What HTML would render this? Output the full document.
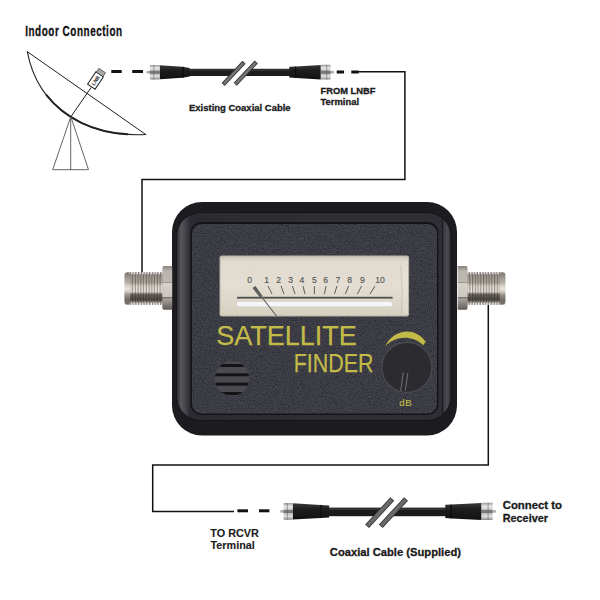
<!DOCTYPE html>
<html><head><meta charset="utf-8">
<style>
html,body{margin:0;padding:0;background:#fff;width:600px;height:600px;overflow:hidden;}
svg{display:block;}
text{font-family:"Liberation Sans",sans-serif;}
</style></head>
<body>
<svg width="600" height="600" viewBox="0 0 600 600">
<defs>
  <linearGradient id="metalV" x1="0" y1="0" x2="0" y2="1">
    <stop offset="0" stop-color="#7d776f"/>
    <stop offset="0.1" stop-color="#9f988f"/>
    <stop offset="0.33" stop-color="#b0a9a0"/>
    <stop offset="0.42" stop-color="#e2dbd3"/>
    <stop offset="0.6" stop-color="#e6dfd7"/>
    <stop offset="0.68" stop-color="#6e6862"/>
    <stop offset="0.85" stop-color="#4c4742"/>
    <stop offset="0.93" stop-color="#a6a098"/>
    <stop offset="1" stop-color="#7d776f"/>
  </linearGradient>
  <linearGradient id="faceV" x1="0" y1="0" x2="0" y2="1">
    <stop offset="0" stop-color="#7a756f"/>
    <stop offset="0.3" stop-color="#b8b2aa"/>
    <stop offset="0.5" stop-color="#ebe5de"/>
    <stop offset="0.75" stop-color="#9a948d"/>
    <stop offset="1" stop-color="#5a554f"/>
  </linearGradient>
  <linearGradient id="nutV" x1="0" y1="0" x2="0" y2="1">
    <stop offset="0" stop-color="#8a857f"/>
    <stop offset="0.12" stop-color="#b9b4ae"/>
    <stop offset="0.36" stop-color="#bdb8b2"/>
    <stop offset="0.37" stop-color="#8a857f"/>
    <stop offset="0.4" stop-color="#d6d1cb"/>
    <stop offset="0.7" stop-color="#cbc6c0"/>
    <stop offset="0.72" stop-color="#7a756f"/>
    <stop offset="0.76" stop-color="#a6a19b"/>
    <stop offset="1" stop-color="#5f5a55"/>
  </linearGradient>
  <pattern id="thread" x="0" y="0" width="2.75" height="50" patternUnits="userSpaceOnUse">
    <rect x="0" y="0" width="1.1" height="50" fill="#1e1a16" opacity="0.38"/>
  </pattern>
  <pattern id="teeth" x="0.5" y="0" width="2.75" height="50" patternUnits="userSpaceOnUse">
    <rect x="0" y="0" width="1.3" height="50" fill="#fff"/>
  </pattern>
  <linearGradient id="meterG" x1="0" y1="0" x2="0" y2="1">
    <stop offset="0" stop-color="#cbc5b7"/>
    <stop offset="0.1" stop-color="#e0dbce"/>
    <stop offset="0.5" stop-color="#e3ded1"/>
    <stop offset="1" stop-color="#d6d0c2"/>
  </linearGradient>
  <linearGradient id="plugNut" x1="0" y1="0" x2="0" y2="1">
    <stop offset="0" stop-color="#9a9a9a"/>
    <stop offset="0.2" stop-color="#e6e6e6"/>
    <stop offset="0.4" stop-color="#cfcfcf"/>
    <stop offset="0.6" stop-color="#bdbdbd"/>
    <stop offset="0.8" stop-color="#e0e0e0"/>
    <stop offset="1" stop-color="#8a8a8a"/>
  </linearGradient>
  <linearGradient id="rimG" x1="0" y1="0" x2="1" y2="0">
    <stop offset="0" stop-color="#2a2a30"/>
    <stop offset="0.0164" stop-color="#56565c"/>
    <stop offset="0.038" stop-color="#3c3c42"/>
    <stop offset="0.049" stop-color="#2a2a30"/>
    <stop offset="0.5" stop-color="#2e2e34"/>
    <stop offset="0.965" stop-color="#2e2e34"/>
    <stop offset="0.969" stop-color="#1c1c20"/>
    <stop offset="0.9745" stop-color="#3c3c44"/>
    <stop offset="0.987" stop-color="#4a4a52"/>
    <stop offset="1" stop-color="#2e2e34"/>
  </linearGradient>
  <linearGradient id="bootG" x1="0" y1="0" x2="0" y2="1">
    <stop offset="0" stop-color="#3a3a3a"/>
    <stop offset="0.35" stop-color="#1e1e1e"/>
    <stop offset="1" stop-color="#111"/>
  </linearGradient>
  <filter id="noise" x="0" y="0" width="100%" height="100%">
    <feTurbulence type="fractalNoise" baseFrequency="0.75" numOctaves="2" seed="7" result="n"/>
    <feColorMatrix type="matrix" values="1.6 0 0 0 -0.62  1.6 0 0 0 -0.62  1.6 0 0 0 -0.58  0 0 0 0 0.11" in="n" result="c"/>
    <feComposite in="c" in2="SourceGraphic" operator="in"/>
  </filter>
<g id="conn">
  <rect x="8" y="272.3" width="39" height="32.5" rx="2.5" fill="url(#metalV)"/>
  <rect x="8" y="272.3" width="33.5" height="32.5" fill="url(#thread)"/>
  <rect x="9" y="272.1" width="33" height="2.2" fill="url(#teeth)"/>
  <rect x="9" y="302.8" width="33" height="2.2" fill="url(#teeth)"/>
  <rect x="41.5" y="273" width="5.5" height="31" rx="2.5" fill="url(#faceV)" opacity="0.75"/>
  <path d="M-0.6,266 L8.3,266 L9.3,268 L9.3,308 L8.3,309.8 L-0.6,309.8 Z" fill="url(#nutV)"/>
</g>
</defs>

<!-- Title -->
<g transform="translate(25.2,35.7) scale(0.72,1)"><text x="0" y="0" font-size="13.8" font-weight="bold" fill="#111" stroke="#111" stroke-width="0.3" letter-spacing="0.75">Indoor Connection</text></g>

<!-- Dish -->
<g fill="none" stroke="#222" stroke-linecap="round">
  <path d="M27.3,51.7 L145.8,134.5" stroke-width="1"/>
  <path d="M27.3,51.7 C38.0,108.5 86.8,137.3 145.8,134.5" stroke-width="1.1"/>
  <path d="M46.5,95.2 C65.0,118.8 94.0,132.1 127.6,134.3" stroke-width="1.9"/>
  <path d="M70.7,117 L52.7,169.7 L88.1,169.7 Z" stroke-width="0.9" stroke="#555"/>
  <path d="M70.7,117 L70.7,169.7" stroke-width="0.9" stroke="#555"/>
  <path d="M70.7,117 L91,87.7" stroke-width="1"/>
</g>
<!-- LNB -->
<g transform="translate(95.5,80.5) rotate(-56)">
  <rect x="-7.5" y="-4.5" width="15" height="9" fill="#fff" stroke="#222" stroke-width="1"/>
  <rect x="7.5" y="-4" width="4.5" height="8" fill="#a8a8a8" stroke="#444" stroke-width="0.7"/>
  <text x="0" y="2" font-size="5" font-weight="bold" text-anchor="middle" fill="#222">LNB</text>
</g>

<!-- Top dashes -->
<g stroke="#111" stroke-width="3">
  <line x1="111.3" y1="71.5" x2="121.7" y2="71.5"/>
  <line x1="132.2" y1="71.5" x2="143" y2="71.5"/>
  <line x1="336.7" y1="72" x2="344" y2="72"/>
  <line x1="351.3" y1="72" x2="358.7" y2="72"/>
</g>

<!-- Top wire -->
<path d="M358,71.8 L404.9,71.8 L404.9,179.4 L142,179.4 L142,275" fill="none" stroke="#111" stroke-width="1.5"/>

<!-- Top cable -->
<g>
  <rect x="185" y="68.8" width="110" height="7.2" fill="#1c1c1c"/>
  <rect x="185" y="69.5" width="110" height="1.3" fill="#3a3a3a"/>
  <rect x="146.6" y="71.0" width="3.4" height="2.4" fill="#a8a8a8"/>
  <rect x="149.8" y="65.0" width="10.1" height="14.4" rx="0.8" fill="url(#plugNut)"/>
  <rect x="149.8" y="70.6" width="10.1" height="3.2" fill="#3a3a3a" opacity="0.55"/>
  <rect x="153.3" y="65.0" width="1" height="14.4" fill="#555" opacity="0.5"/>
  <path d="M159.9,65.2 L182.5,66.8 L189.7,67.9 L189.7,76.5 L182.5,77.8 L159.9,79.3 Z" fill="url(#bootG)"/>
  <rect x="182.5" y="66.8" width="1.2" height="11.0" fill="#0c0c0c"/>
  <rect x="330.5" y="71.0" width="3.4" height="2.4" fill="#a8a8a8"/>
  <rect x="320.7" y="64.8" width="10.0" height="14.8" rx="0.8" fill="url(#plugNut)"/>
  <rect x="320.7" y="70.6" width="10.0" height="3.2" fill="#3a3a3a" opacity="0.55"/>
  <rect x="326.2" y="64.8" width="1" height="14.8" fill="#555" opacity="0.5"/>
  <path d="M320.7,65.0 L296.2,66.6 L289.3,66.8 L289.3,77.6 L296.2,78.0 L320.7,79.5 Z" fill="url(#bootG)"/>
  <rect x="295.0" y="66.6" width="1.2" height="11.4" fill="#0c0c0c"/>
  <!-- break marks -->
  <line x1="229.2" y1="84.6" x2="250" y2="62" stroke="#fff" stroke-width="5.5"/>
  <g stroke-linecap="butt">
    <line x1="223.2" y1="84.5" x2="244" y2="62.3" stroke="#2e2e2e" stroke-width="4.2"/>
    <line x1="223.7" y1="84.0" x2="243.5" y2="62.8" stroke="#747474" stroke-width="2.6"/>
    <line x1="235.25" y1="84.25" x2="256.3" y2="62" stroke="#2e2e2e" stroke-width="4.2"/>
    <line x1="235.75" y1="83.75" x2="255.8" y2="62.5" stroke="#747474" stroke-width="2.6"/>
  </g>
</g>

<text x="189" y="110.6" font-size="9.4" font-weight="bold" fill="#1a1a1a" stroke="#1a1a1a" stroke-width="0.3" textLength="101.6" lengthAdjust="spacingAndGlyphs">Existing Coaxial Cable</text>
<text x="320.5" y="94" font-size="9.4" font-weight="bold" fill="#1a1a1a" stroke="#1a1a1a" stroke-width="0.3" textLength="55" lengthAdjust="spacingAndGlyphs">FROM LNBF</text>
<text x="320.5" y="105.1" font-size="9.4" font-weight="bold" fill="#1a1a1a" stroke="#1a1a1a" stroke-width="0.3" textLength="38.5" lengthAdjust="spacingAndGlyphs">Terminal</text>

<!-- Device body -->
<rect x="172" y="202" width="285" height="233.5" rx="30" fill="#1c1c20"/>
<rect x="176.5" y="212.5" width="274.5" height="208" rx="24" fill="url(#rimG)"/>
<rect x="176.5" y="212.5" width="274.5" height="208" rx="24" fill="none" stroke="#141417" stroke-width="1"/>
<rect x="190.5" y="222" width="248" height="193" rx="11" fill="#141418"/>
<rect x="192" y="224" width="245" height="189.5" rx="9.5" fill="#36363f"/>
<rect x="192" y="224" width="245" height="189.5" rx="9.5" fill="#000" filter="url(#noise)"/>

<!-- Meter -->
<rect x="220" y="256" width="188.6" height="60" rx="1.5" fill="url(#meterG)"/>
<rect x="220" y="256" width="188.6" height="60" rx="1.5" fill="none" stroke="#b8b2a2" stroke-width="1"/>
<path d="M400.5,266 Q403.5,290 401.5,314" fill="none" stroke="#bdb7a8" stroke-width="0.8" opacity="0.7"/>
<rect x="403" y="262" width="5" height="52" fill="#ebe6da" opacity="0.35"/>
<g font-size="8.6" fill="#555" stroke="#555" stroke-width="0.15" text-anchor="middle">
  <text x="249.6" y="282.6">0</text>
  <text x="266.6" y="282.6">1</text>
  <text x="278.6" y="282.6">2</text>
  <text x="290.6" y="282.6">3</text>
  <text x="302" y="282.6">4</text>
  <text x="314.4" y="282.6">5</text>
  <text x="325.6" y="282.6">6</text>
  <text x="338" y="282.6">7</text>
  <text x="349.6" y="282.6">8</text>
  <text x="362.4" y="282.6">9</text>
  <text x="380" y="282.6">10</text>
</g>
<g stroke="#555" stroke-width="0.95">
  <line x1="268" y1="286" x2="272" y2="294"/>
  <line x1="281" y1="286" x2="284" y2="294"/>
  <line x1="292.4" y1="286" x2="295" y2="294"/>
  <line x1="303" y1="286" x2="305" y2="294"/>
  <line x1="314.4" y1="286" x2="314.4" y2="294"/>
  <line x1="326" y1="286" x2="324.4" y2="294"/>
  <line x1="337" y1="286" x2="334.4" y2="294"/>
  <line x1="348.6" y1="286" x2="345.4" y2="294"/>
  <line x1="361.6" y1="286" x2="357.4" y2="294"/>
  <line x1="375" y1="286" x2="370" y2="294"/>
</g>
<rect x="237" y="296.8" width="155.6" height="1.8" fill="#4e4e4e"/>
<rect x="237" y="302" width="155" height="4.2" rx="2" fill="#f6f7fb"/>
<path d="M254,287 L276.5,316" stroke="#5e5e5e" stroke-width="1.1"/>
<path d="M252.5,288 L255.5,286 L262.5,296 L260,297.5 Z" fill="#5e5e5e"/>

<!-- SATELLITE FINDER -->
<text x="216.2" y="345.2" font-size="28.2" fill="#c3bb48" stroke="#c3bb48" stroke-width="0.25" textLength="140.6" lengthAdjust="spacingAndGlyphs">SATELLITE</text>
<text x="293.8" y="372" font-size="25.6" fill="#c3bb48" stroke="#c3bb48" stroke-width="0.25" textLength="79.6" lengthAdjust="spacingAndGlyphs">FINDER</text>

<!-- Speaker -->
<circle cx="232" cy="378.5" r="17.5" fill="#4a4a50"/>
<clipPath id="spk"><circle cx="232" cy="378.5" r="17.2"/></clipPath>
<g clip-path="url(#spk)" fill="#141416">
  <rect x="210" y="364" width="45" height="3"/>
  <rect x="210" y="373.3" width="45" height="3"/>
  <rect x="210" y="382.7" width="45" height="3"/>
  <rect x="210" y="392" width="45" height="3.2"/>
</g>

<!-- Knob -->
<path d="M385.3,346.2 C391,332.5 412,323.5 425.8,341.8 L423,345.2 C412,334.5 395,336 385.3,346.2 Z" fill="#c3bb48"/>
<circle cx="406.9" cy="367.4" r="25" fill="#2b2b30" stroke="#4c4c53" stroke-width="1.1"/>
<g stroke="#77777c" stroke-width="0.9">
  <line x1="403.3" y1="372.5" x2="400.6" y2="391"/>
  <line x1="407.9" y1="373" x2="405.3" y2="390.5"/>
</g>
<text x="405.4" y="406" font-size="9.6" fill="#c3bb48" stroke="#c3bb48" stroke-width="0.15" text-anchor="middle" textLength="12.5" lengthAdjust="spacing">dB</text>

<!-- Connectors -->

<use href="#conn" transform="translate(458.3,0)"/>
<use href="#conn" transform="translate(171.6,0) scale(-1,1)"/>
<!-- Bottom wire -->
<path d="M488.3,305 L488.3,464.9 L152.7,464.9 L152.7,511.6 L234,511.6" fill="none" stroke="#111" stroke-width="1.5"/>
<g stroke="#111" stroke-width="3">
  <line x1="237.4" y1="510.8" x2="248" y2="510.8"/>
  <line x1="259" y1="510.8" x2="269.4" y2="510.8"/>
</g>

<!-- Bottom cable -->
<g>
  <rect x="325" y="507.6" width="124" height="8.6" fill="#1c1c1c"/>
  <rect x="325" y="508.4" width="124" height="1.4" fill="#3a3a3a"/>
  <rect x="280.3" y="510.2" width="3.4" height="2.4" fill="#a8a8a8"/>
  <rect x="283.5" y="503.1" width="9.4" height="16.6" rx="0.8" fill="url(#plugNut)"/>
  <rect x="283.5" y="509.8" width="9.4" height="3.2" fill="#3a3a3a" opacity="0.55"/>
  <rect x="286.8" y="503.1" width="1" height="16.6" fill="#555" opacity="0.5"/>
  <path d="M292.9,503.3 L320.5,504.9 L329.2,505.4 L329.2,517.4 L320.5,518.1 L292.9,519.6 Z" fill="url(#bootG)"/>
  <rect x="320.5" y="504.9" width="1.2" height="13.2" fill="#0c0c0c"/>
  <rect x="492.5" y="510.2" width="3.4" height="2.4" fill="#a8a8a8"/>
  <rect x="481.3" y="502.8" width="11.4" height="17.2" rx="0.8" fill="url(#plugNut)"/>
  <rect x="481.3" y="509.8" width="11.4" height="3.2" fill="#3a3a3a" opacity="0.55"/>
  <rect x="487.6" y="502.8" width="1" height="17.2" fill="#555" opacity="0.5"/>
  <path d="M481.3,503.0 L451.8,504.6 L445.3,504.8 L445.3,518.0 L451.8,518.4 L481.3,519.9 Z" fill="url(#bootG)"/>
  <rect x="450.6" y="504.6" width="1.2" height="13.8" fill="#0c0c0c"/>
  <line x1="374" y1="526" x2="399.2" y2="498.8" stroke="#fff" stroke-width="6.2"/>
  <g stroke-linecap="butt">
    <line x1="367.1" y1="526.2" x2="392.3" y2="499" stroke="#383838" stroke-width="5.2"/>
    <line x1="367.7" y1="525.6" x2="391.7" y2="499.6" stroke="#6a6a6a" stroke-width="3.5"/>
    <line x1="380.8" y1="526.2" x2="406.1" y2="499" stroke="#383838" stroke-width="5.2"/>
    <line x1="381.4" y1="525.6" x2="405.5" y2="499.6" stroke="#6a6a6a" stroke-width="3.5"/>
  </g>
</g>

<text x="210.3" y="536.6" font-size="10.9" font-weight="bold" fill="#1a1a1a" stroke="#1a1a1a" stroke-width="0.1" textLength="48.6" lengthAdjust="spacingAndGlyphs">TO RCVR</text>
<text x="210.5" y="548.8" font-size="10.2" font-weight="bold" fill="#1a1a1a" stroke="#1a1a1a" stroke-width="0.1" textLength="44.3" lengthAdjust="spacingAndGlyphs">Terminal</text>
<text x="329.8" y="556.3" font-size="11.2" font-weight="bold" fill="#1a1a1a" stroke="#1a1a1a" stroke-width="0.3" textLength="131.2" lengthAdjust="spacingAndGlyphs">Coaxial Cable (Supplied)</text>
<text x="502.7" y="509.3" font-size="10.8" font-weight="bold" fill="#1a1a1a" stroke="#1a1a1a" stroke-width="0.3" textLength="59.3" lengthAdjust="spacingAndGlyphs">Connect to</text>
<text x="502.7" y="522" font-size="10.8" font-weight="bold" fill="#1a1a1a" stroke="#1a1a1a" stroke-width="0.3" textLength="45.3" lengthAdjust="spacingAndGlyphs">Receiver</text>
</svg>
</body></html>
